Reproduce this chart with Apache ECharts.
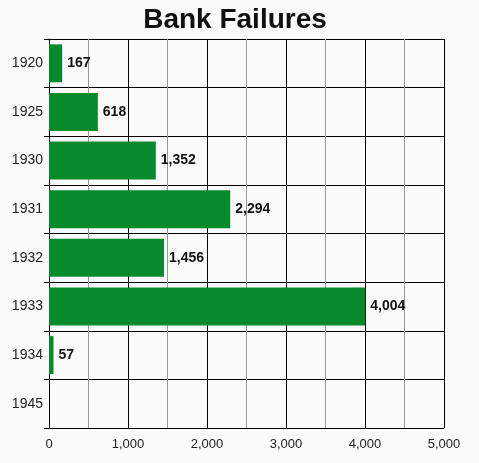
<!DOCTYPE html>
<html><head><meta charset="utf-8">
<script src="https://cdn.jsdelivr.net/npm/echarts@6/dist/echarts.min.js"></script>
<style>html,body{margin:0;padding:0;background:#fafafa}#c{width:479px;height:463px}</style>
</head><body><div id="c"></div>
<script>
const years = ['1920','1925','1930','1931','1932','1933','1934','1945'];
const failures = [167, 618, 1352, 2294, 1456, 4004, 57, 0];
const xTicks = [0, 1000, 2000, 3000, 4000, 5000];

const fmt = v => Number(v).toLocaleString('en-US');
const chart = echarts.init(document.getElementById('c'));
chart.setOption({
  backgroundColor: '#fafafa',
  animation: false,
  title: {
    text: 'Bank Failures', left: 230, textAlign: 'center', top: 1,
    textStyle: { fontFamily: 'Liberation Sans', fontWeight: 'bold', fontSize: 28, color: '#111' }
  },
  grid: { left: 49, right: 35, top: 39, bottom: 35, containLabel: false },
  xAxis: {
    type: 'value', min: xTicks[0], max: xTicks[xTicks.length - 1], interval: 1000,
    axisLine: { show: true, lineStyle: { color: '#000', width: 1 } },
    axisTick: { show: false },
    axisLabel: { formatter: fmt, color: '#222', fontFamily: 'Liberation Sans', fontSize: 13, margin: 10 },
    splitLine: { show: true, lineStyle: { color: '#000', width: 1 } },
    minorTick: { show: false, splitNumber: 2 },
    minorSplitLine: { show: true, lineStyle: { color: '#999', width: 1 } }
  },
  yAxis: {
    type: 'category', data: years, inverse: true,
    axisLine: { show: true, lineStyle: { color: '#000', width: 1 } },
    axisTick: { show: true, length: 5, lineStyle: { color: '#000' } },
    axisLabel: { color: '#222', fontFamily: 'Liberation Sans', fontSize: 14, margin: 6 },
    splitLine: { show: true, lineStyle: { color: '#000', width: 1 } }
  },
  series: [{
    type: 'bar', data: failures, barCategoryGap: '22%',
    itemStyle: { color: '#078a2c' },
    label: {
      show: true, position: 'right', distance: 5,
      formatter: p => p.value ? fmt(p.value) : '',
      color: '#111', fontWeight: 'bold', fontFamily: 'Liberation Sans', fontSize: 14
    }
  }]
});
</script></body></html>
